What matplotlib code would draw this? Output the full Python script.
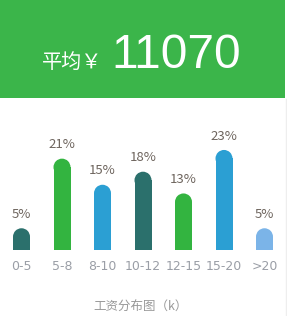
import matplotlib.pyplot as plt
from matplotlib.patches import Ellipse, Rectangle

plt.rcParams['font.family'] = ['Noto Sans CJK SC', 'DejaVu Sans']

# salary bands (k) and share of jobs (%)
bands = ['0-5', '5-8', '8-10', '10-12', '12-15', '15-20', '>20']
shares = [5, 21, 15, 18, 13, 23, 5]
colors = ['#2b706c', '#33b440', '#2b9fd3', '#2b706c', '#33b440', '#2b9fd3', '#7bb4e8']
avg_salary = '11070'

W, H = 287, 316
fig = plt.figure(figsize=(W / 100, H / 100), dpi=100)
fig.patch.set_facecolor('white')

# green header
fig.patches.append(Rectangle((0, 1 - 98 / H), 285 / W, 98 / H, transform=fig.transFigure,
                             facecolor='#3bb54a', edgecolor='none'))
fig.text(42 / W, 1 - 68 / H, '平均￥', color='white', fontsize=14.5, va='baseline', ha='left')
fig.text(111 / W, 1 - 68 / H, avg_salary, color='white', fontsize=34.5, va='baseline', ha='left',
         family='Liberation Sans')
# faint right border
fig.add_artist(plt.Line2D([286 / W, 286 / W], [0, 1 - 99 / H], transform=fig.transFigure,
                          color='#eeeeee', lw=1))

# bar chart
ax_top, ax_bot = 110, 250
ax = fig.add_axes([0, 1 - ax_bot / H, 1, (ax_bot - ax_top) / H])
step = 40.5
px_per_unit = 4.35
ax.set_xlim(-21.5 / step, (W - 21.5) / step)
ax.set_ylim(0, (ax_bot - ax_top) / px_per_unit)

bw = 17 / step
ry = 8.5 / px_per_unit
xs = list(range(len(bands)))
for x, v, c in zip(xs, shares, colors):
    ax.bar(x, v - ry, width=bw, color=c, linewidth=0)
    ax.add_patch(Ellipse((x, v - ry), bw, 2 * ry, facecolor=c, edgecolor='none'))
    ax.annotate(f'{v}%', (x, v), xytext=(0, 10), textcoords='offset points',
                ha='center', va='center', fontsize=9.5, color='#6e655e')

ax.set_xticks(xs)
ax.set_xticklabels(bands, fontsize=9, color='#9a9ea6', family='DejaVu Sans')
ax.tick_params(axis='x', length=0, pad=7.5)
ax.set_yticks([])
for s in ax.spines.values():
    s.set_visible(False)

fig.text(141 / W, 1 - 307.5 / H, '工资分布图（k）', fontsize=9, color='#999999',
         ha='center', va='center')

fig.savefig('out.png', dpi=100)
